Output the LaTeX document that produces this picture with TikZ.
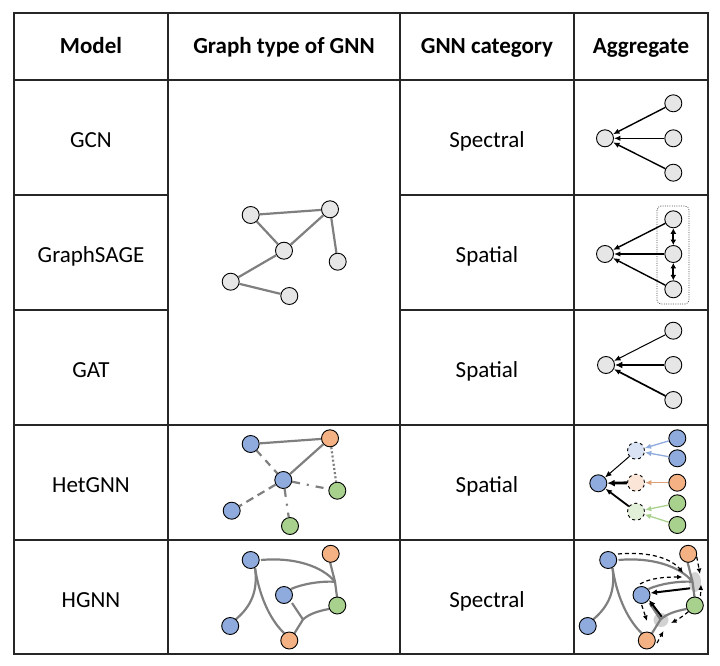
\documentclass[tikz,border=0pt]{standalone}
\usepackage{fontspec}
\setmainfont{Carlito}
\usetikzlibrary{arrows.meta}
\definecolor{nodegray}{HTML}{E6E6E6}
\definecolor{edgegray}{HTML}{7F7F7F}
\definecolor{nblue}{HTML}{8FAADC}
\definecolor{norange}{HTML}{F4B183}
\definecolor{ngreen}{HTML}{A9D18E}
\definecolor{lblue}{HTML}{DAE3F3}
\definecolor{lorange}{HTML}{FBE5D6}
\definecolor{lgreen}{HTML}{E2F0D9}

\begin{document}
\begin{tikzpicture}[x=1pt,y=-1pt,>={Latex[length=6.5pt,width=5.5pt]},
	main node/.style={circle,draw,line width=0.9pt,inner sep=0pt,minimum size=17pt,fill=nodegray},
	blue node/.style={main node,fill=nblue},
	orange node/.style={main node,fill=norange},
	green node/.style={main node,fill=ngreen},
	gedge/.style={draw=edgegray,line width=2.2pt},
	agg/.style={->,line width=1.4pt},
	bigtip/.style={-{Latex[length=7.5pt,width=7pt]}},
	dagg/.style={-{Latex[length=5.5pt,width=5pt]},line width=1.2pt,dash pattern=on 4pt off 3pt},
	cell/.style={anchor=base,font=\fontsize{23}{27}\selectfont},
	head/.style={anchor=base,font=\fontsize{23}{27}\selectfont\bfseries}]
	\useasboundingbox (0,0) rectangle (720,666);
	% table
	\draw[line width=1.2pt,black!85] (14,13) rectangle (708,654);
	\foreach \x in {168,400,574} \draw[line width=1.2pt,black!85] (\x,13) -- (\x,654);
	\foreach \y in {80,425,540} \draw[line width=1.2pt,black!85] (14,\y) -- (708,\y);
	\foreach \y in {195,310} {
		\draw[line width=1.2pt,black!85] (14,\y) -- (168,\y);
		\draw[line width=1.2pt,black!85] (400,\y) -- (708,\y);
	}
	% texts
	\node[head] (hm) at (91,54) {Model};
	\node[head] (hg) at (284,54) {Graph type of GNN};
	\node[head] (hc) at (487,54) {GNN category};
	\node[head] (ha) at (641,54) {Aggregate};
	\node[cell] (m1) at (91,147) {GCN};
	\node[cell] (m2) at (91,262) {GraphSAGE};
	\node[cell] (m3) at (91,377) {GAT};
	\node[cell] (m4) at (91,492) {HetGNN};
	\node[cell] (m5) at (91,607) {HGNN};
	\node[cell] (c1) at (487,147) {Spectral};
	\node[cell] (c2) at (487,262) {Spatial};
	\node[cell] (c3) at (487,377) {Spatial};
	\node[cell] (c4) at (487,492) {Spatial};
	\node[cell] (c5) at (487,607) {Spectral};

	% homogeneous graph
	\draw (250.7,215) node(a) [main node] {}
	      (330,209.3) node(b) [main node] {}
	      (284,250.7) node(c) [main node] {}
	      (337.7,261.7) node(d) [main node] {}
	      (230.7,281.7) node(e) [main node] {}
	      (289.3,296) node(f) [main node] {};
	\draw[gedge] (a) -- (b);
	\draw[gedge] (a) -- (c);
	\draw[gedge] (c) -- (b);
	\draw[gedge] (b) -- (d);
	\draw[gedge] (c) -- (e);
	\draw[gedge] (e) -- (f);

	% GCN
	\draw (605,138.3) node(gc) [main node] {}
	      (673.3,103.3) node(gc1) [main node] {}
	      (673.3,138.3) node(gc2) [main node] {}
	      (673.3,172.7) node(gc3) [main node] {};
	\foreach \n in {gc1,gc2,gc3} \draw[agg] (\n) -- (gc);

	% GraphSAGE
	\draw[dash pattern=on 1pt off 1.3pt,line width=0.7pt,black!70,rounded corners=4pt] (657,206) rectangle (689,304);
	\draw (605,254) node(sa) [main node] {}
	      (673.3,219.3) node(sa1) [main node] {}
	      (673.3,254) node(sa2) [main node] {}
	      (673.3,289.3) node(sa3) [main node] {};
	\foreach \n in {sa1,sa2,sa3} \draw[agg] (\n) -- (sa);
	\draw[{Latex[length=5.5pt,width=6pt]}-{Latex[length=5.5pt,width=6pt]},line width=1.9pt] (sa1) -- (sa2);
	\draw[{Latex[length=5.5pt,width=6pt]}-{Latex[length=5.5pt,width=6pt]},line width=1.9pt] (sa2) -- (sa3);

	% GAT
	\draw (606,365) node(at) [main node] {}
	      (673.3,330.7) node(at1) [main node] {}
	      (673.3,365) node(at2) [main node] {}
	      (673.3,400) node(at3) [main node] {};
	\draw[->,line width=1pt] (at1) -- (at);
	\draw[bigtip,line width=2.8pt] (at2) -- (at);
	\draw[->,line width=1.7pt] (at3) -- (at);

	% heterogeneous graph
	\draw (250.7,444) node(hb1) [blue node] {}
	      (330,438.3) node(ho1) [orange node] {}
	      (283.3,480) node(hb2) [blue node] {}
	      (337.3,490.7) node(hg1) [green node] {}
	      (231.7,510.7) node(hb3) [blue node] {}
	      (290,526) node(hg2) [green node] {};
	\draw[gedge] (hb1) -- (ho1);
	\draw[gedge] (ho1) -- (hb2);
	\draw[gedge,dash pattern=on 7pt off 6pt] (hb1) -- (hb2);
	\draw[gedge,dash pattern=on 2pt off 2.2pt] (ho1) -- (hg1);
	\draw[gedge,dash pattern=on 8pt off 7pt on 2pt off 7pt] (hb2) -- (hg1);
	\draw[gedge,dash pattern=on 8pt off 5pt] (hb2) -- (hb3);
	\draw[gedge,dash pattern=on 8pt off 7pt on 2pt off 7pt] (hb2) -- (hg2);

	% HetGNN
	\draw (598.3,483.3) node(ht) [blue node] {}
	      (636,450.7) node(hv1) [main node,fill=lblue,dashed] {}
	      (636,482.7) node(hv2) [main node,fill=lorange,dashed] {}
	      (636,511.7) node(hv3) [main node,fill=lgreen,dashed] {}
	      (677.3,438.3) node(hs1) [blue node] {}
	      (677.3,458.3) node(hs2) [blue node] {}
	      (677.3,482.7) node(hs3) [orange node] {}
	      (677.3,503.3) node(hs4) [green node] {}
	      (677.3,525) node(hs5) [green node] {};
	\draw[->,line width=1.3pt,nblue] (hs1) -- (hv1);
	\draw[->,line width=1.3pt,nblue] (hs2) -- (hv1);
	\draw[->,line width=1.3pt,norange!90!black] (hs3) -- (hv2);
	\draw[->,line width=1.3pt,ngreen] (hs4) -- (hv3);
	\draw[->,line width=1.3pt,ngreen] (hs5) -- (hv3);
	\draw[->,line width=1pt] (hv1) -- (ht);
	\draw[bigtip,line width=2.8pt] (hv2) -- (ht);
	\draw[->,line width=1.8pt] (hv3) -- (ht);

	% hypergraph, drawn twice
	\fill[gray!35] (695,582) ellipse (6 and 10);
	\fill[gray!35] (661,620) ellipse (7.5 and 7);
	\foreach \s/\p in {0/l,357.5/r} {
		\begin{scope}[xshift=\s]
		\coordinate (\p q1) at (335,581.7);
		\coordinate (\p q2) at (303,619.5);
		\draw[gedge] (261,560) .. controls (294,557) and (322,566) .. (\p q1);
		\draw[gedge] (291,589) .. controls (302,584) and (320,581) .. (\p q1);
		\draw[gedge] (330,562) -- (\p q1) -- (337,597);
		\draw[gedge] (292,603) -- (\p q2);
		\draw[gedge] (329,609) .. controls (318,611) and (309,614) .. (\p q2) .. controls (298,626) .. (294,634);
		\draw[gedge] (255,568) .. controls (258,590) and (252,606) .. (235,620);
		\draw[gedge] (255,568) .. controls (260,600) and (272,622) .. (285,634);
		\draw (250.7,560) node(\p b1) [blue node] {}
		      (330.7,553.8) node(\p o1) [orange node] {}
		      (284,595) node(\p b2) [blue node] {}
		      (337.3,605.5) node(\p g1) [green node] {}
		      (230.2,626) node(\p b3) [blue node] {}
		      (289.3,640.5) node(\p o2) [orange node] {};
		\end{scope}
	}
	% HGNN messages
	\draw[dagg] (618,554) .. controls (650,551) and (672,559) .. (683,573);
	\draw[dagg] (696.7,556.7) -- (700,574);
	\draw[dagg] (700.5,596) -- (701,584.5);
	\draw[dagg] (640,584) .. controls (650,578) and (665,577) .. (682.5,577);
	\draw[-{Latex[length=6.5pt,width=6pt]},line width=2pt] (690,588.3) -- (650.5,593);
	\draw[-{Latex[length=6.5pt,width=6pt]},line width=2pt] (661.7,616.7) -- (649,600);
	\draw[dagg] (641.7,605) -- (647,621);
	\draw[dagg] (688.3,611.7) .. controls (682,617) and (677,620) .. (671,623);
	\draw[dagg] (657,643) -- (663.5,631);
\end{tikzpicture}
\end{document}
